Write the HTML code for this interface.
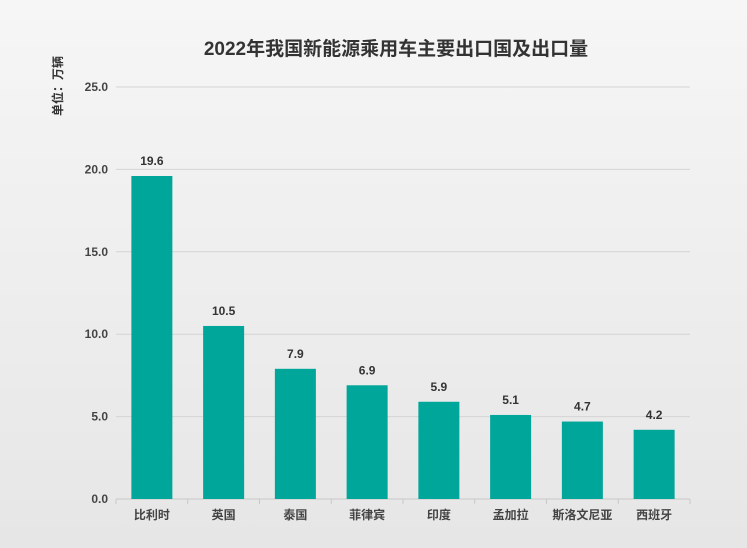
<!DOCTYPE html>
<html><head><meta charset="utf-8"><style>
body{margin:0;width:747px;height:548px;overflow:hidden;background:linear-gradient(#f6f6f6,#e6e6e6);font-family:"Liberation Sans","Noto Sans CJK SC",sans-serif;}
svg{display:block}
</style></head><body>
<svg id="c" width="747" height="548">
<text x="396" y="55" text-anchor="middle" font-size="19" font-weight="bold" fill="#333" font-family="Liberation Sans,Noto Sans CJK SC,sans-serif">2022年我国新能源乘用车主要出口国及出口量</text>
<text transform="translate(62,86) rotate(-90)" text-anchor="middle" font-size="12" font-weight="bold" fill="#333" font-family="Liberation Sans,Noto Sans CJK SC,sans-serif">单位：万辆</text>
</svg>
<script>
const categories=["比利时","英国","泰国","菲律宾","印度","孟加拉","斯洛文尼亚","西班牙"];
const values=[19.6,10.5,7.9,6.9,5.9,5.1,4.7,4.2];
const ticks=[0,5,10,15,20,25];
const svg=document.getElementById('c');
const NS='http://www.w3.org/2000/svg';
const x0=116,x1=690,y0=499,y1=87,ymax=25;
const band=(x1-x0)/categories.length;
const y=v=>y0-(v/ymax)*(y0-y1);
const xc=i=>x0+band*(i+0.5);
function mk(t,a){const e=document.createElementNS(NS,t);for(const k in a)e.setAttribute(k,a[k]);svg.appendChild(e);return e;}
const F="Liberation Sans,Noto Sans CJK SC,sans-serif";
ticks.forEach(t=>{
 if(t>0){const g=mk('line',{x1:x0,x2:x1,y1:y(t),y2:y(t),stroke:'#d4d4d4','stroke-width':1});
 
 }
 const l=mk('text',{x:108,y:y(t)+4,'text-anchor':'end','font-size':12,'font-weight':'bold',fill:'#444','font-family':F});
 l.textContent=t.toFixed(1);
 
 
});
const ax=mk('line',{x1:x0,x2:x1,y1:y0,y2:y0,stroke:'#c8c8c8','stroke-width':1});


for(let i=0;i<=categories.length;i++){const tk=mk('line',{x1:x0+band*i,x2:x0+band*i,y1:y0,y2:y0+5,stroke:'#c8c8c8'});
 
 }
categories.forEach((c,i)=>{
 const w=41,v=values[i];
 const b=mk('rect',{x:xc(i)-w/2,y:y(v),width:w,height:y0-y(v),fill:'#00a699'});
 
 
 const vl=mk('text',{x:xc(i),y:y(v)-11,'text-anchor':'middle','font-size':12,'font-weight':'bold',fill:'#333','font-family':F});
 vl.textContent=v.toFixed(1);
 
 
 const cl=mk('text',{x:xc(i),y:519,'text-anchor':'middle','font-size':12,'font-weight':'bold',fill:'#444','font-family':F});
 cl.textContent=c;
 
 
});
</script>
</body></html>
